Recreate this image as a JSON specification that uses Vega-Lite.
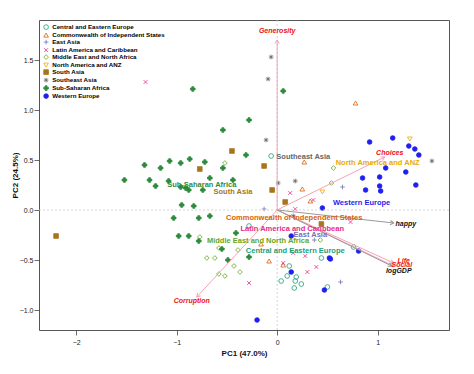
{
  "$schema": "https://vega.github.io/schema/vega-lite/v6.json",
  "width": 410,
  "height": 310,
  "autosize": {"type": "none"},
  "padding": {"left": 39, "top": 20, "right": 25, "bottom": 44},
  "background": "white",
  "config": {
    "font": "Liberation Sans",
    "view": {"stroke": "#555555", "strokeWidth": 1},
    "axis": {"labelFont": "Liberation Sans", "labelFontSize": 7, "labelColor": "#222222", "tickColor": "#444444", "tickSize": 5, "tickWidth": 0.8, "domain": false, "grid": false, "titleFont": "Liberation Sans", "titleFontSize": 8, "titleFontWeight": "bold", "titleColor": "#111111"},
    "legend": {"orient": "top-left", "direction": "vertical", "offset": 2, "padding": 2, "labelFont": "Liberation Sans", "labelFontSize": 6.2, "labelFontWeight": "bold", "symbolSize": 22, "symbolStrokeWidth": 0.8, "rowPadding": -1, "labelOffset": 3, "labelLimit": 300}
  },
  "datasets": {
    "zero": [{"v": 0}],
    "points": [
      {"region": "Central and Eastern Europe", "PC1": -0.06, "PC2": 0.54},
      {"region": "Central and Eastern Europe", "PC1": 0.76, "PC2": -0.37},
      {"region": "Central and Eastern Europe", "PC1": 0.44, "PC2": -0.48},
      {"region": "Central and Eastern Europe", "PC1": 0.12, "PC2": -0.56},
      {"region": "Central and Eastern Europe", "PC1": 0.10, "PC2": -0.66},
      {"region": "Central and Eastern Europe", "PC1": 0.04, "PC2": -0.71},
      {"region": "Central and Eastern Europe", "PC1": 0.19, "PC2": -0.67},
      {"region": "Central and Eastern Europe", "PC1": 0.18, "PC2": -0.71},
      {"region": "Central and Eastern Europe", "PC1": 0.24, "PC2": -0.74},
      {"region": "Central and Eastern Europe", "PC1": 0.17, "PC2": -0.78},
      {"region": "Central and Eastern Europe", "PC1": 0.50, "PC2": -0.77},
      {"region": "Central and Eastern Europe", "PC1": -0.28, "PC2": -0.16},
      {"region": "Commonwealth of Independent States", "PC1": 0.78, "PC2": 1.07},
      {"region": "Commonwealth of Independent States", "PC1": 0.27, "PC2": 0.48},
      {"region": "Commonwealth of Independent States", "PC1": 0.25, "PC2": 0.21},
      {"region": "Commonwealth of Independent States", "PC1": 0.33, "PC2": 0.09},
      {"region": "Commonwealth of Independent States", "PC1": -0.08, "PC2": -0.51},
      {"region": "Commonwealth of Independent States", "PC1": 0.06, "PC2": -0.55},
      {"region": "Commonwealth of Independent States", "PC1": -0.16, "PC2": -0.34},
      {"region": "East Asia", "PC1": 0.65, "PC2": 0.23},
      {"region": "East Asia", "PC1": -0.13, "PC2": 0.01},
      {"region": "East Asia", "PC1": 0.63, "PC2": -0.72},
      {"region": "East Asia", "PC1": 0.37, "PC2": -0.30},
      {"region": "Latin America and Caribbean", "PC1": -1.31, "PC2": 1.28},
      {"region": "Latin America and Caribbean", "PC1": 0.13, "PC2": 0.17},
      {"region": "Latin America and Caribbean", "PC1": 0.36, "PC2": 0.10},
      {"region": "Latin America and Caribbean", "PC1": 0.18, "PC2": 0.01},
      {"region": "Latin America and Caribbean", "PC1": 0.73, "PC2": -0.12},
      {"region": "Latin America and Caribbean", "PC1": 0.28, "PC2": -0.46},
      {"region": "Latin America and Caribbean", "PC1": 0.06, "PC2": -0.53},
      {"region": "Latin America and Caribbean", "PC1": 0.30, "PC2": -0.62},
      {"region": "Latin America and Caribbean", "PC1": 0.39, "PC2": -0.57},
      {"region": "Latin America and Caribbean", "PC1": 0.16, "PC2": -0.43},
      {"region": "Latin America and Caribbean", "PC1": -0.28, "PC2": -0.73},
      {"region": "Middle East and North Africa", "PC1": -0.52, "PC2": 0.47},
      {"region": "Middle East and North Africa", "PC1": -0.77, "PC2": -0.27},
      {"region": "Middle East and North Africa", "PC1": -0.58, "PC2": -0.38},
      {"region": "Middle East and North Africa", "PC1": -0.70, "PC2": -0.48},
      {"region": "Middle East and North Africa", "PC1": -0.62, "PC2": -0.48},
      {"region": "Middle East and North Africa", "PC1": -0.58, "PC2": -0.64},
      {"region": "Middle East and North Africa", "PC1": -0.52, "PC2": -0.66},
      {"region": "Middle East and North Africa", "PC1": -0.43, "PC2": -0.56},
      {"region": "Middle East and North Africa", "PC1": -0.39, "PC2": -0.40},
      {"region": "Middle East and North Africa", "PC1": -0.37, "PC2": -0.62},
      {"region": "Middle East and North Africa", "PC1": 0.54, "PC2": 0.27},
      {"region": "Middle East and North Africa", "PC1": 0.56, "PC2": 0.42},
      {"region": "Middle East and North Africa", "PC1": 0.43, "PC2": -0.30},
      {"region": "North America and ANZ", "PC1": 1.32, "PC2": 0.71},
      {"region": "North America and ANZ", "PC1": 0.45, "PC2": 0.18},
      {"region": "South Asia", "PC1": -0.45, "PC2": 0.59},
      {"region": "South Asia", "PC1": -0.77, "PC2": 0.41},
      {"region": "South Asia", "PC1": -2.20, "PC2": -0.26},
      {"region": "South Asia", "PC1": -0.13, "PC2": 0.44},
      {"region": "South Asia", "PC1": -0.05, "PC2": 0.20},
      {"region": "South Asia", "PC1": 0.08, "PC2": 0.08},
      {"region": "South Asia", "PC1": 0.44, "PC2": -0.14},
      {"region": "Southeast Asia", "PC1": -0.06, "PC2": 1.53},
      {"region": "Southeast Asia", "PC1": -0.09, "PC2": 1.31},
      {"region": "Southeast Asia", "PC1": -0.11, "PC2": 0.70},
      {"region": "Southeast Asia", "PC1": 0.01, "PC2": 0.27},
      {"region": "Southeast Asia", "PC1": 0.18, "PC2": 0.29},
      {"region": "Southeast Asia", "PC1": 1.54, "PC2": 0.49},
      {"region": "Southeast Asia", "PC1": 0.16, "PC2": -0.06},
      {"region": "Sub-Saharan Africa", "PC1": -1.52, "PC2": 0.30},
      {"region": "Sub-Saharan Africa", "PC1": -1.32, "PC2": 0.45},
      {"region": "Sub-Saharan Africa", "PC1": -1.27, "PC2": 0.30},
      {"region": "Sub-Saharan Africa", "PC1": -1.21, "PC2": 0.24},
      {"region": "Sub-Saharan Africa", "PC1": -1.16, "PC2": 0.42},
      {"region": "Sub-Saharan Africa", "PC1": -1.07, "PC2": 0.49},
      {"region": "Sub-Saharan Africa", "PC1": -0.96, "PC2": 0.47},
      {"region": "Sub-Saharan Africa", "PC1": -0.87, "PC2": 0.51},
      {"region": "Sub-Saharan Africa", "PC1": -0.72, "PC2": 0.48},
      {"region": "Sub-Saharan Africa", "PC1": -1.08, "PC2": 0.29},
      {"region": "Sub-Saharan Africa", "PC1": -0.96, "PC2": 0.23},
      {"region": "Sub-Saharan Africa", "PC1": -0.91, "PC2": 0.22},
      {"region": "Sub-Saharan Africa", "PC1": -0.88, "PC2": 0.20},
      {"region": "Sub-Saharan Africa", "PC1": -0.74, "PC2": 0.20},
      {"region": "Sub-Saharan Africa", "PC1": -0.67, "PC2": 0.32},
      {"region": "Sub-Saharan Africa", "PC1": -0.54, "PC2": 0.42},
      {"region": "Sub-Saharan Africa", "PC1": -0.95, "PC2": 0.05},
      {"region": "Sub-Saharan Africa", "PC1": -0.83, "PC2": 0.04},
      {"region": "Sub-Saharan Africa", "PC1": -1.03, "PC2": -0.08},
      {"region": "Sub-Saharan Africa", "PC1": -0.78, "PC2": -0.08},
      {"region": "Sub-Saharan Africa", "PC1": -0.67, "PC2": -0.06},
      {"region": "Sub-Saharan Africa", "PC1": -0.54, "PC2": 0.80},
      {"region": "Sub-Saharan Africa", "PC1": -0.44, "PC2": 0.30},
      {"region": "Sub-Saharan Africa", "PC1": -0.31, "PC2": 0.55},
      {"region": "Sub-Saharan Africa", "PC1": 0.06, "PC2": 1.19},
      {"region": "Sub-Saharan Africa", "PC1": -0.28, "PC2": 0.90},
      {"region": "Sub-Saharan Africa", "PC1": -0.84, "PC2": 1.21},
      {"region": "Sub-Saharan Africa", "PC1": -0.98, "PC2": -0.26},
      {"region": "Sub-Saharan Africa", "PC1": -0.88, "PC2": -0.26},
      {"region": "Sub-Saharan Africa", "PC1": -0.78, "PC2": -0.31},
      {"region": "Sub-Saharan Africa", "PC1": -0.55, "PC2": -0.39},
      {"region": "Sub-Saharan Africa", "PC1": -0.49, "PC2": -0.50},
      {"region": "Sub-Saharan Africa", "PC1": -0.28, "PC2": -0.47},
      {"region": "Sub-Saharan Africa", "PC1": -0.41, "PC2": -0.23},
      {"region": "Western Europe", "PC1": 0.92, "PC2": 0.68},
      {"region": "Western Europe", "PC1": 1.15, "PC2": 0.72},
      {"region": "Western Europe", "PC1": 1.31, "PC2": 0.64},
      {"region": "Western Europe", "PC1": 1.37, "PC2": 0.61},
      {"region": "Western Europe", "PC1": 1.41, "PC2": 0.55},
      {"region": "Western Europe", "PC1": 1.08, "PC2": 0.42},
      {"region": "Western Europe", "PC1": 1.28, "PC2": 0.38},
      {"region": "Western Europe", "PC1": 0.85, "PC2": 0.32},
      {"region": "Western Europe", "PC1": 1.02, "PC2": 0.33},
      {"region": "Western Europe", "PC1": 1.38, "PC2": 0.25},
      {"region": "Western Europe", "PC1": 0.88, "PC2": 0.20},
      {"region": "Western Europe", "PC1": 1.02, "PC2": 0.24},
      {"region": "Western Europe", "PC1": 1.03, "PC2": 0.19},
      {"region": "Western Europe", "PC1": 0.45, "PC2": 0.02},
      {"region": "Western Europe", "PC1": 0.81, "PC2": -0.41},
      {"region": "Western Europe", "PC1": 0.52, "PC2": -0.48},
      {"region": "Western Europe", "PC1": 0.53, "PC2": -0.49},
      {"region": "Western Europe", "PC1": 0.14, "PC2": -0.62},
      {"region": "Western Europe", "PC1": 0.47, "PC2": -0.80},
      {"region": "Western Europe", "PC1": -0.20, "PC2": -1.10},
      {"region": "Western Europe", "PC1": 0.14, "PC2": -0.26}
    ],
    "loadings": [
      {"variable": "Generosity", "px": 0.0, "py": 1.70, "lx": 0.0, "ly": 1.79},
      {"variable": "Choices", "px": 1.07, "py": 0.53, "lx": 1.12, "ly": 0.57},
      {"variable": "happy", "px": 1.16, "py": -0.13, "lx": 1.28, "ly": -0.14},
      {"variable": "Life", "px": 1.16, "py": -0.53, "lx": 1.26, "ly": -0.51},
      {"variable": "Social", "px": 1.16, "py": -0.56, "lx": 1.24, "ly": -0.55},
      {"variable": "logGDP", "px": 1.14, "py": -0.56, "lx": 1.21, "ly": -0.61},
      {"variable": "Corruption", "px": -0.80, "py": -0.87, "lx": -0.85, "ly": -0.91}
    ],
    "centroids": [
      {"region": "Central and Eastern Europe", "PC1": 0.18, "PC2": -0.41},
      {"region": "Commonwealth of Independent States", "PC1": 0.17, "PC2": -0.08},
      {"region": "East Asia", "PC1": 0.33, "PC2": -0.25},
      {"region": "Latin America and Caribbean", "PC1": 0.15, "PC2": -0.19},
      {"region": "Middle East and North Africa", "PC1": -0.19, "PC2": -0.31},
      {"region": "North America and ANZ", "PC1": 1.00, "PC2": 0.47},
      {"region": "South Asia", "PC1": -0.44, "PC2": 0.18},
      {"region": "Southeast Asia", "PC1": 0.26, "PC2": 0.53},
      {"region": "Sub-Saharan Africa", "PC1": -0.75, "PC2": 0.25},
      {"region": "Western Europe", "PC1": 0.84, "PC2": 0.07}
    ]
  },
  "layer": [
    {
      "data": {"name": "points"},
      "mark": {"type": "point", "size": 22, "strokeWidth": 0.8, "opacity": 1},
      "encoding": {
        "x": {"field": "PC1", "type": "quantitative", "scale": {"domain": [-2.37, 1.71], "nice": false, "zero": false},
              "axis": {"title": "PC1 (47.0%)", "values": [-2, -1, 0, 1], "format": "d", "labelPadding": 3, "titlePadding": 4}},
        "y": {"field": "PC2", "type": "quantitative", "scale": {"domain": [-1.2, 1.9], "nice": false, "zero": false},
              "axis": {"title": "PC2 (24.5%)", "values": [-1, -0.5, 0, 0.5, 1, 1.5], "format": ".1f", "labelPadding": 1, "titlePadding": 0}},
        "stroke": {"field": "region", "type": "nominal",
          "scale": {"domain": ["Central and Eastern Europe", "Commonwealth of Independent States", "East Asia", "Latin America and Caribbean", "Middle East and North Africa", "North America and ANZ", "South Asia", "Southeast Asia", "Sub-Saharan Africa", "Western Europe"],
                    "range": ["#1b9e77", "#d95f02", "#7570b3", "#e7298a", "#66a61e", "#e6ab02", "#a6761d", "#666666", "#2e8b3e", "#1f1fef"]},
          "legend": {"title": null, "orient": "top-left", "direction": "vertical", "offset": 2, "padding": 2,
                     "encode": {"labels": {"update": {"fill": {"scale": "stroke", "field": "value"}}}}}},
        "fill": {"field": "region", "type": "nominal",
          "scale": {"domain": ["Central and Eastern Europe", "Commonwealth of Independent States", "East Asia", "Latin America and Caribbean", "Middle East and North Africa", "North America and ANZ", "South Asia", "Southeast Asia", "Sub-Saharan Africa", "Western Europe"],
                    "range": ["transparent", "transparent", "transparent", "transparent", "transparent", "transparent", "#a6761d", "#666666", "#2e8b3e", "#1f1fef"]},
          "legend": {"title": null, "orient": "top-left", "direction": "vertical", "offset": 2, "padding": 2}},
        "shape": {"field": "region", "type": "nominal",
          "scale": {"domain": ["Central and Eastern Europe", "Commonwealth of Independent States", "East Asia", "Latin America and Caribbean", "Middle East and North Africa", "North America and ANZ", "South Asia", "Southeast Asia", "Sub-Saharan Africa", "Western Europe"],
                    "range": ["circle", "triangle-up", "M-1,0L1,0M0,-1L0,1", "M-0.8,-0.8L0.8,0.8M-0.8,0.8L0.8,-0.8", "diamond", "triangle-down", "square", "M-1,0L1,0M0,-1L0,1M-0.7,-0.7L0.7,0.7M-0.7,0.7L0.7,-0.7", "cross", "circle"]},
          "legend": {"title": null, "orient": "top-left", "direction": "vertical", "offset": 2, "padding": 2}}
      }
    },
    {
      "data": {"name": "zero"},
      "mark": {"type": "rule", "stroke": "#c8c8c8", "strokeWidth": 0.8, "strokeDash": [2, 2]},
      "encoding": {
        "x": {"field": "v", "type": "quantitative"}
      }
    },
    {
      "data": {"name": "zero"},
      "mark": {"type": "rule", "stroke": "#c8c8c8", "strokeWidth": 0.8, "strokeDash": [2, 2]},
      "encoding": {
        "y": {"field": "v", "type": "quantitative"}
      }
    },
    {
      "data": {"name": "loadings"},
      "mark": {"type": "rule", "strokeWidth": 1},
      "encoding": {
        "x": {"field": "px", "type": "quantitative"},
        "y": {"field": "py", "type": "quantitative"},
        "x2": {"datum": 0},
        "y2": {"datum": 0},
        "color": {"condition": {"test": "datum.variable === 'happy' || datum.variable === 'logGDP'", "value": "#9a9a9a"}, "value": "#f4a3b5"}
      }
    },
    {
      "data": {"name": "loadings"},
      "mark": {"type": "point", "filled": false, "size": 50, "strokeWidth": 1, "opacity": 1, "shape": "M-0.6,1L0,0L0.6,1", "angle": {"expr": "atan2(datum.px, datum.py) * 180 / PI"}},
      "encoding": {
        "x": {"field": "px", "type": "quantitative"},
        "y": {"field": "py", "type": "quantitative"},
        "color": {"condition": {"test": "datum.variable === 'happy' || datum.variable === 'logGDP'", "value": "#9a9a9a"}, "value": "#f4a3b5"}
      }
    },
    {
      "data": {"name": "loadings"},
      "mark": {"type": "text", "fontSize": 7, "fontWeight": "bold", "fontStyle": "italic", "align": "center", "baseline": "middle"},
      "encoding": {
        "x": {"field": "lx", "type": "quantitative"},
        "y": {"field": "ly", "type": "quantitative"},
        "text": {"field": "variable"},
        "color": {"condition": {"test": "datum.variable === 'happy' || datum.variable === 'logGDP'", "value": "#111111"}, "value": "#ee1111"}
      }
    },
    {
      "data": {"name": "centroids"},
      "mark": {"type": "text", "fontSize": 7.5, "fontWeight": "bold", "align": "center", "baseline": "middle"},
      "encoding": {
        "x": {"field": "PC1", "type": "quantitative"},
        "y": {"field": "PC2", "type": "quantitative"},
        "text": {"field": "region"},
        "color": {"field": "region", "type": "nominal", "legend": null,
          "scale": {"domain": ["Central and Eastern Europe", "Commonwealth of Independent States", "East Asia", "Latin America and Caribbean", "Middle East and North Africa", "North America and ANZ", "South Asia", "Southeast Asia", "Sub-Saharan Africa", "Western Europe"],
                    "range": ["#1b9e77", "#d95f02", "#7570b3", "#e7298a", "#66a61e", "#e6ab02", "#a6761d", "#666666", "#2e8b3e", "#1f1fef"]}}
      }
    }
  ]
}
